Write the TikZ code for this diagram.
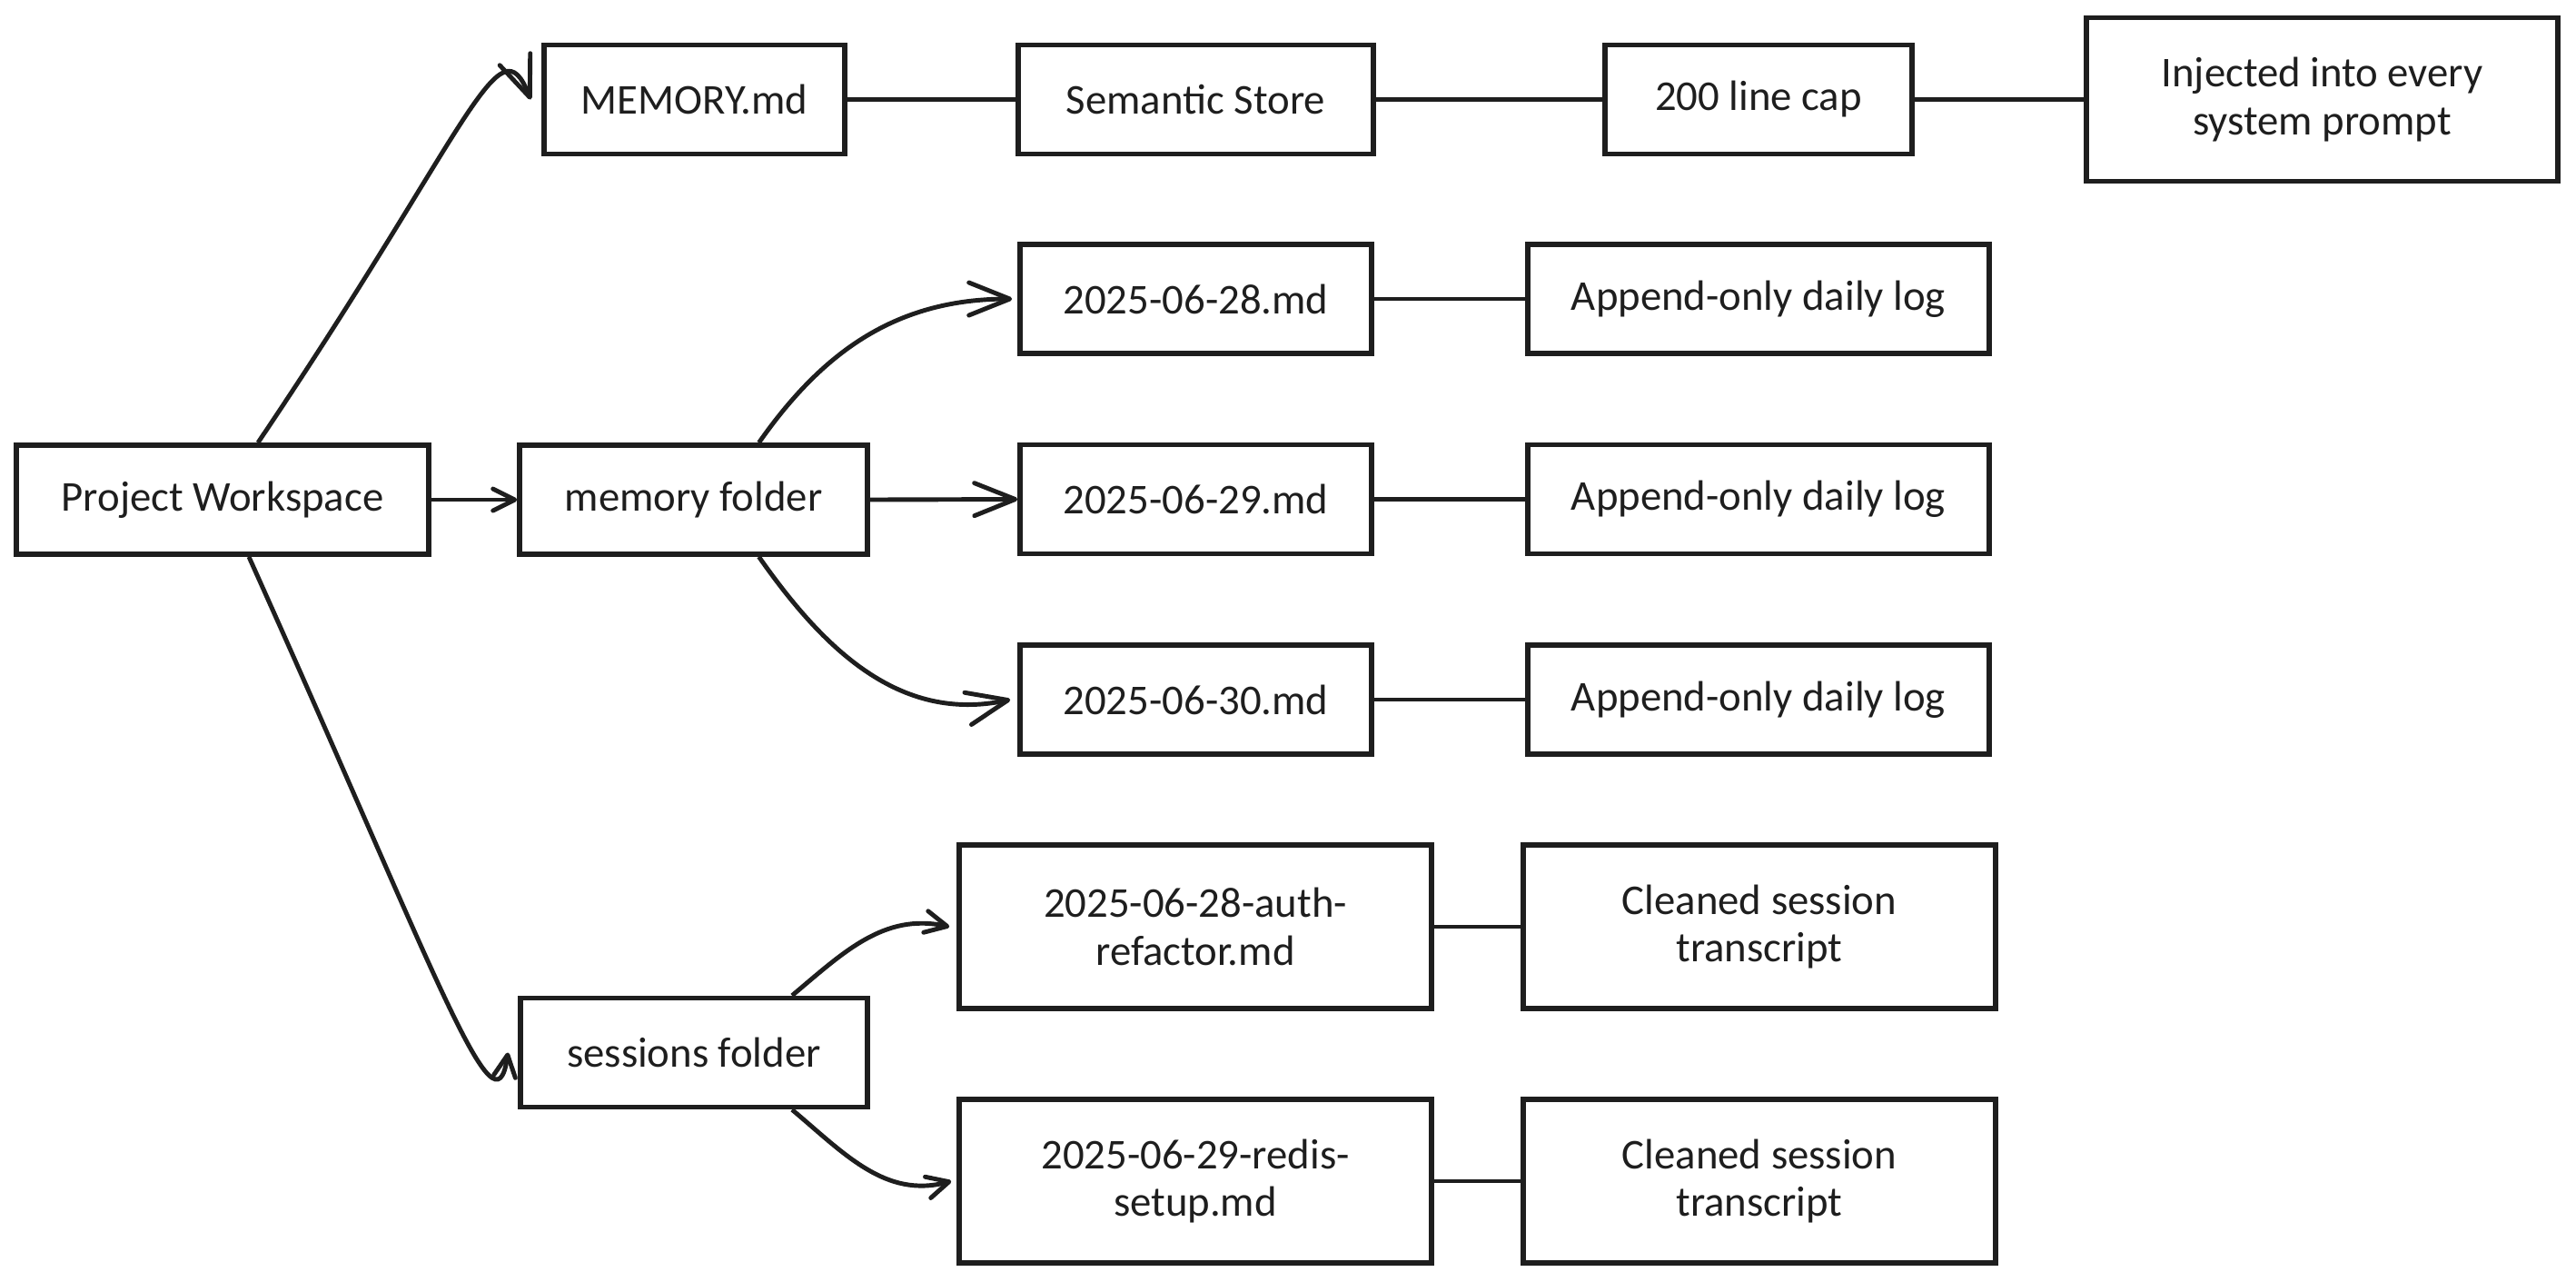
\documentclass[tikz,border=0pt]{standalone}
\usepackage{fontspec}
\setmainfont{Carlito}
\usepackage{tikz}
\usetikzlibrary{arrows.meta,positioning,calc}
\usepackage{xcolor}
\definecolor{InkBlack}{RGB}{30,30,30}

\begin{document}
\begin{tikzpicture}[
  box/.style={draw=InkBlack,line width=1.6pt,minimum height=1.2cm,
              align=center,text=InkBlack,inner sep=4pt,
              font=\fontsize{13.3}{15}\selectfont},
  tallbox/.style={box,minimum height=1.8cm},
  link/.style={InkBlack,line width=1.4pt,
               -{Straight Barb[round,length=4.5mm,width=3.6mm]}},
  linksm/.style={InkBlack,line width=1.4pt,
               -{Straight Barb[round,length=2.4mm,width=2.4mm]}},
  tie/.style={InkBlack,line width=1.4pt},
]
\useasboundingbox (0,0) rectangle (28.36,-14.10);
% root and folders
\node[box,minimum width=4.54cm] (ws) at (2.45,-5.50) {Project Workspace};
\node[box,minimum width=3.83cm] (memdir) at (7.635,-5.50) {memory folder};
\node[box,minimum width=3.82cm] (sesdir) at (7.64,-11.585) {sessions folder};
% MEMORY.md --- semantic store
\node[box,minimum width=3.31cm] (memfile) at (7.645,-1.095) {MEMORY.md};
\node[box,minimum width=3.91cm] (sem) at (13.165,-1.095) {Semantic Store};
\node[box,minimum width=3.38cm] (cap) at (19.36,-1.095) {200 line cap};
\node[tallbox,minimum width=5.19cm] (inj) at (25.565,-1.095)
  {Injected into every\\system prompt};
% daily logs
\node[box,minimum width=3.87cm] (d28) at (13.165,-3.29) {2025-06-28.md};
\node[box,minimum width=5.08cm] (log28) at (19.36,-3.29) {Append-only daily log};
\node[box,minimum width=3.87cm] (d29) at (13.165,-5.495) {2025-06-29.md};
\node[box,minimum width=5.08cm] (log29) at (19.36,-5.495) {Append-only daily log};
\node[box,minimum width=3.87cm] (d30) at (13.165,-7.70) {2025-06-30.md};
\node[box,minimum width=5.08cm] (log30) at (19.36,-7.70) {Append-only daily log};
% session transcripts
\node[tallbox,minimum width=5.2cm] (auth) at (13.16,-10.20)
  {2025-06-28-auth-\\refactor.md};
\node[tallbox,minimum width=5.2cm] (clean1) at (19.37,-10.20)
  {Cleaned session\\transcript};
\node[tallbox,minimum width=5.2cm] (redis) at (13.16,-13.00)
  {2025-06-29-redis-\\setup.md};
\node[tallbox,minimum width=5.2cm] (clean2) at (19.37,-13.00)
  {Cleaned session\\transcript};
% arrows out of the workspace
\draw[link] ([xshift=3.9mm]ws.north) .. controls +(2.36,3.5) and +(-0.35,0.9)
  .. ([xshift=-1.2mm]memfile.west);
\draw[linksm] (ws.east) -- (memdir.west);
\draw[linksm] ([xshift=2.9mm]ws.south) .. controls +(2.10,-4.67) and +(-0.14,-1.0)
  .. ([xshift=-1.1mm]sesdir.west);
% memory folder fan-out
\draw[link] ([xshift=7.2mm]memdir.north) to[out=55,in=180] ([xshift=-0.6mm]d28.west);
\draw[link] (memdir.east) -- (d29.west);
\draw[link] ([xshift=7.2mm]memdir.south) to[out=-55,in=192] ([xshift=-0.8mm]d30.west);
% sessions folder fan-out
\draw[linksm] ([xshift=10.8mm]sesdir.north) to[out=40,in=168] ([xshift=-0.8mm]auth.west);
\draw[linksm] ([xshift=10.8mm]sesdir.south) to[out=-40,in=195] ([xshift=-0.6mm]redis.west);
% plain links
\draw[tie] (memfile) -- (sem);
\draw[tie] (sem) -- (cap);
\draw[tie] (cap) -- (inj);
\draw[tie] (d28) -- (log28);
\draw[tie] (d29) -- (log29);
\draw[tie] (d30) -- (log30);
\draw[tie] (auth) -- (clean1);
\draw[tie] (redis) -- (clean2);
\end{tikzpicture}
\end{document}
